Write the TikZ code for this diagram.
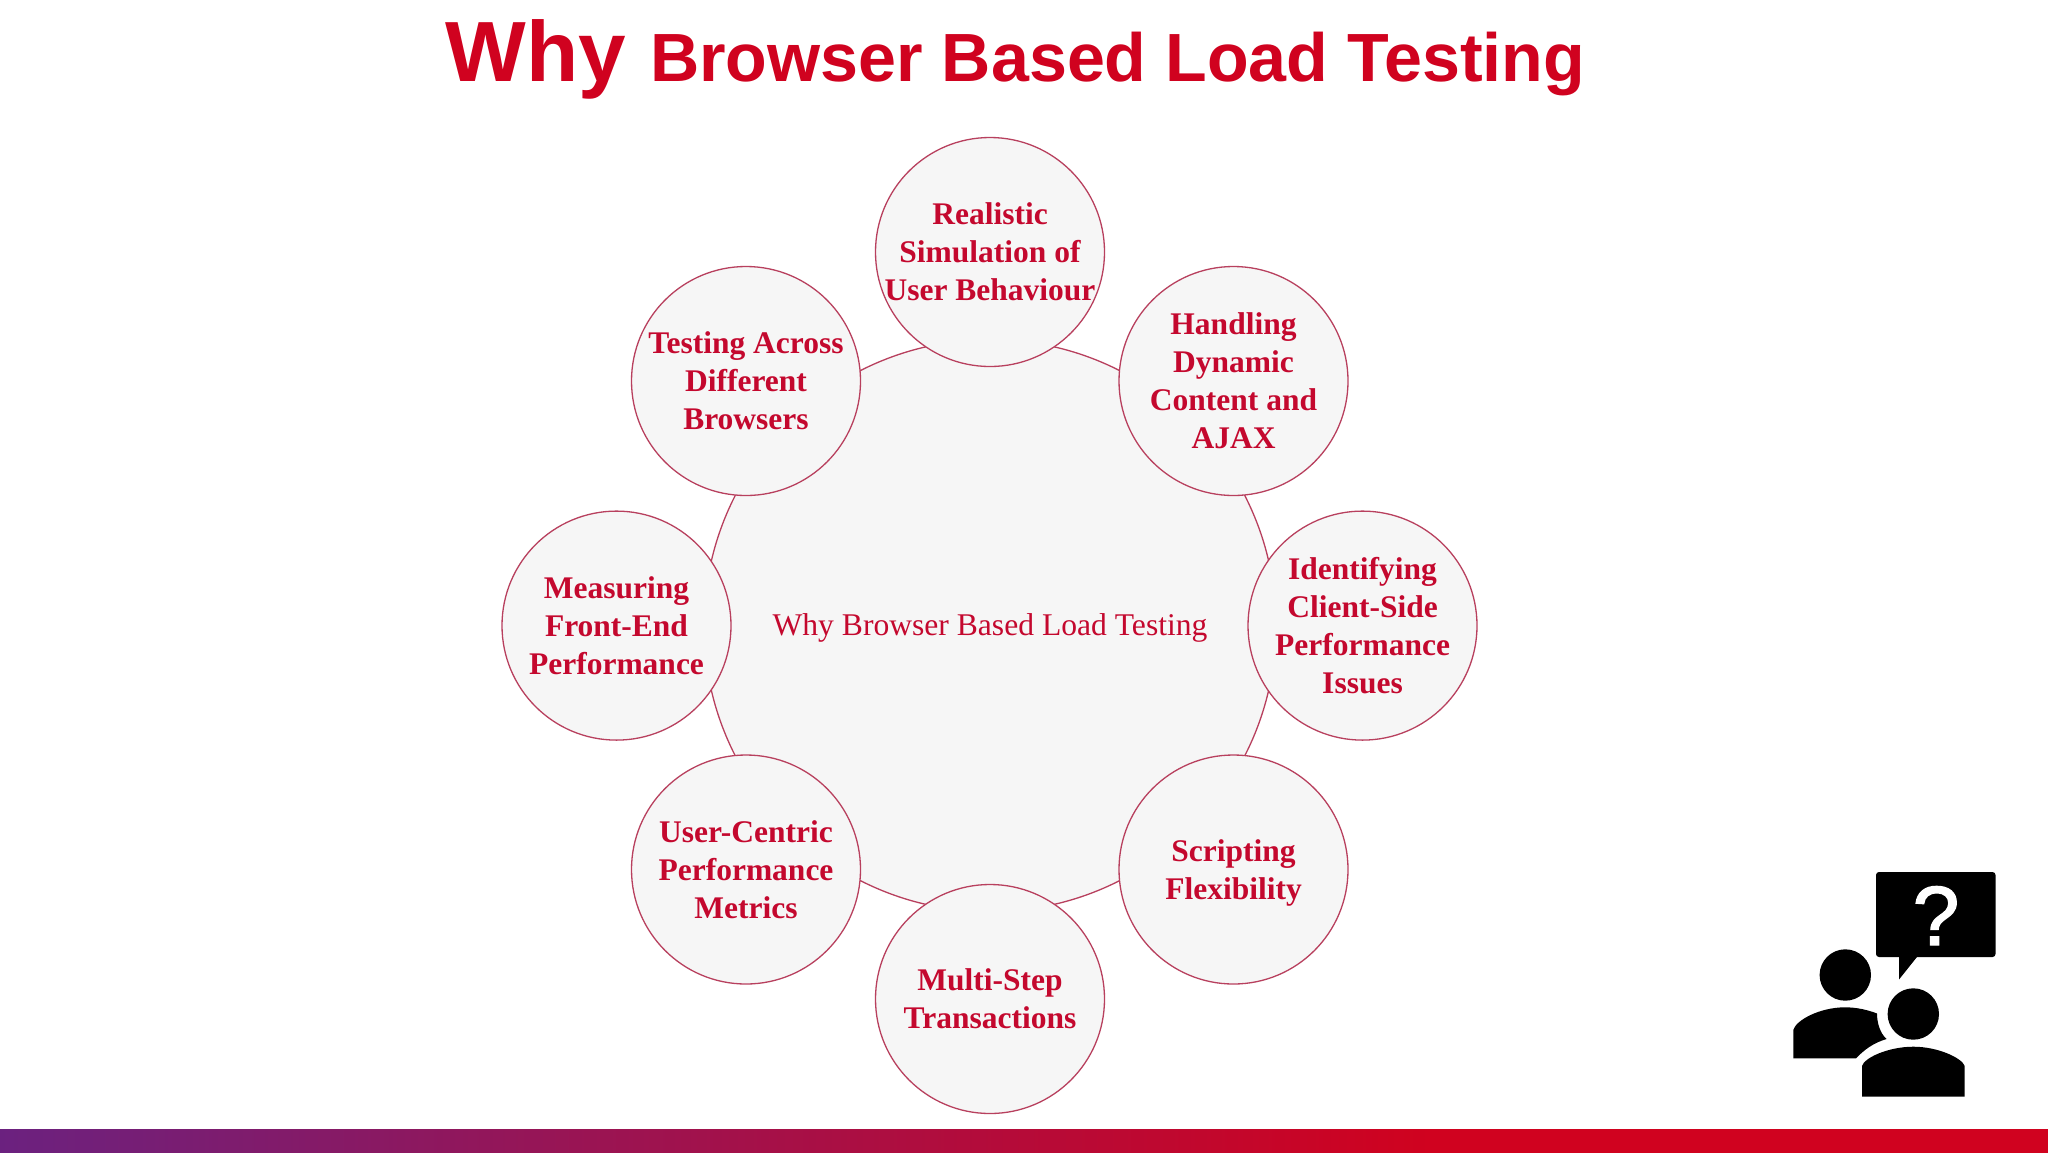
\documentclass[tikz,border=0pt]{standalone}
\usepackage{fontspec}
\setmainfont{Liberation Serif}
\newfontfamily\arialf{Liberation Sans}
\newfontfamily\qmarkf[FakeBold=1.6]{Liberation Sans}
\definecolor{titlered}{HTML}{D0021F}
\definecolor{txtred}{HTML}{C4082E}
\definecolor{ringc}{HTML}{B8405E}
\definecolor{discfill}{HTML}{F6F6F6}
\pgfdeclarehorizontalshading{barshade}{100bp}{
  rgb(0bp)=(0.42,0.13,0.50);
  rgb(25bp)=(0.42,0.13,0.50);
  rgb(39bp)=(0.60,0.08,0.33);
  rgb(60bp)=(0.816,0.008,0.12);
  rgb(100bp)=(0.816,0.008,0.12)}
\newcommand{\lowertext}[2]{\raisebox{-#1}[\height][\depth]{#2}}
\tikzset{
  sat/.style={circle,draw=ringc,line width=1.3pt,fill=discfill,minimum size=229pt,inner sep=0pt,align=center,
    text=txtred,font=\fontsize{31.5}{38}\selectfont\bfseries},
  hub/.style={circle,draw=ringc,line width=1.3pt,fill=discfill,minimum size=572pt,inner sep=0pt,align=center,
    text=txtred,font=\fontsize{31.6}{38}\selectfont},
  icon/.style={fill=black,draw=none}
}
\begin{document}
\begin{tikzpicture}[x=1pt,y=-1pt]
\useasboundingbox (0,0) rectangle (2048,1152);
\fill[white] (0,0) rectangle (2048,1152);
% title
\node[anchor=base west,inner sep=0pt,text=titlered,font=\arialf\bfseries\fontsize{85.5}{85}\selectfont] (t1) at (445.5,81) {Why};
\node[anchor=base west,inner sep=0pt,text=titlered,font=\arialf\bfseries\fontsize{68.2}{69}\selectfont] (t2) at (650,81) {Browser Based Load Testing};
% hub and satellites
\node[hub] (hub) at (990,625.6) {\lowertext{2.6pt}{Why Browser Based Load Testing}};
\node[sat] (s1) at (990,252) {Realistic\\Simulation of\\\makebox[170pt]{User Behaviour}};
\node[sat] (s2) at (1233.5,381) {Handling\\Dynamic\\Content and\\AJAX};
\node[sat] (s3) at (1362.5,625.6) {Identifying\\Client-Side\\Performance\\Issues};
\node[sat] (s4) at (1233.5,869.5) {\lowertext{3pt}{Scripting}\\\lowertext{3pt}{Flexibility}};
\node[sat] (s5) at (990,999) {Multi-Step\\Transactions};
\node[sat] (s6) at (746,869.5) {User-Centric\\Performance\\Metrics};
\node[sat] (s7) at (616.5,625.6) {Measuring\\Front-End\\Performance};
\node[sat] (s8) at (746,381) {Testing Across\\Different\\Browsers};
% bottom bar
\shade[shading=barshade] (0,1129) rectangle (2048,1152);
% icon
\fill[icon,rounded corners=3pt] (1876,872) rectangle (1995.5,957);
\fill[icon] (1899,950) -- (1899,979.5) -- (1922.5,950) -- cycle;
\node[inner sep=0pt,anchor=base,text=white,font=\qmarkf\fontsize{84}{84}\selectfont] (q) at (1936,945) {?};
\fill[icon] (1845.3,975) circle (25.7);
\fill[icon] (1913.3,1014) circle (25.7);
\fill[icon] (1793.3,1058.3) -- (1793.3,1030) .. controls (1796,1020) and (1820,1007.3) .. (1845,1007.3)
  .. controls (1857,1007.3) and (1868,1010) .. (1877,1013.5)
  .. controls (1877,1023) and (1880,1033) .. (1886.5,1039)
  .. controls (1873,1043) and (1864,1050) .. (1856,1058.3) -- cycle;
\fill[icon] (1862,1096.7) -- (1862,1066) .. controls (1864,1058) and (1888,1046.7) .. (1913.3,1046.7)
  .. controls (1938,1046.7) and (1962,1058) .. (1964.7,1066) -- (1964.7,1096.7) -- cycle;
\end{tikzpicture}
\end{document}
